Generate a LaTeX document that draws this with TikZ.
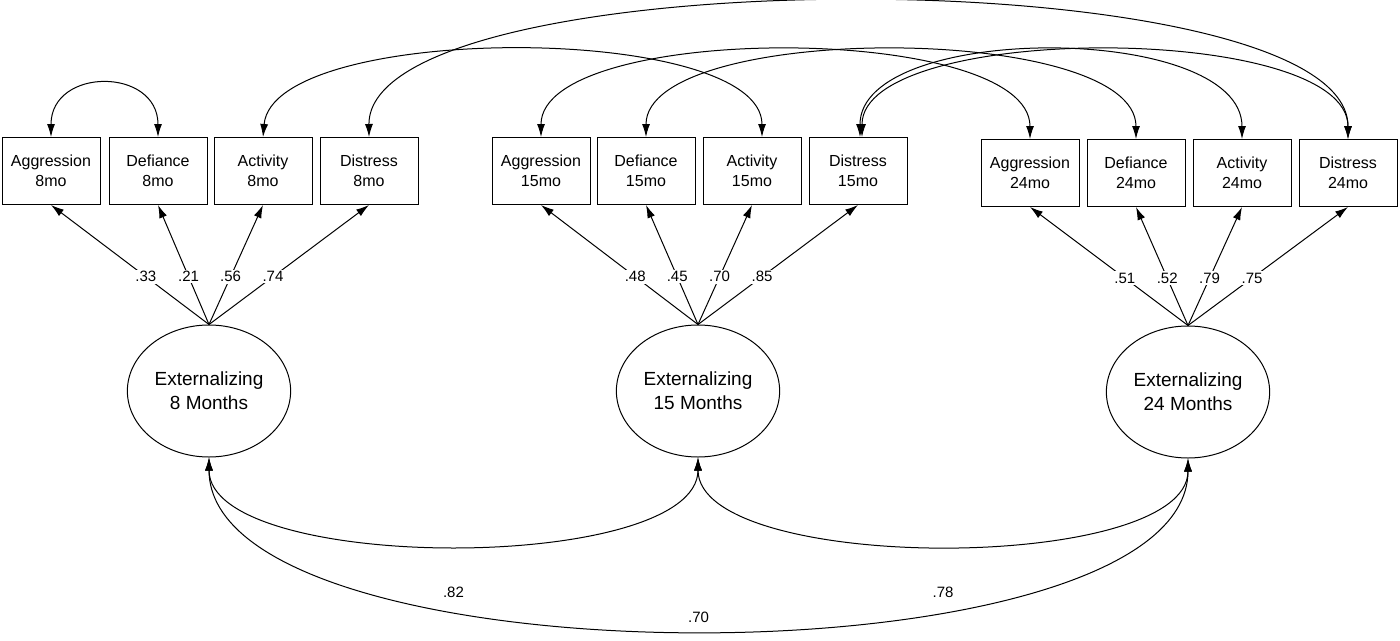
\documentclass[tikz,border=0pt]{standalone}
\usepackage{fontspec}
\setmainfont{Liberation Sans}
\usetikzlibrary{arrows.meta,shapes.geometric}
\begin{document}
\begin{tikzpicture}[x=1pt,y=-1pt,
  box/.style={draw,line width=1pt,minimum width=98pt,minimum height=67pt,align=center,font=\fontsize{16}{20}\selectfont,inner sep=0pt},
  lat/.style={draw,line width=1pt,ellipse,minimum width=146pt,minimum height=132pt,align=center,font=\fontsize{19}{24}\selectfont},
  arr/.style={line width=1pt,-{Latex[length=13pt,width=8pt]}},
  cov/.style={line width=1pt,{Latex[length=13pt,width=8pt]}-{Latex[length=13pt,width=8pt]}},
  lab/.style={fill=white,inner sep=1.5pt,font=\fontsize{15}{18}\selectfont}]
\useasboundingbox (0,0) rectangle (1400,640);
\foreach \n/\x/\y/\t in {a8/51/171/Aggression\\8mo, d8/158/171/Defiance\\8mo, c8/263/171/Activity\\8mo, s8/369/171/Distress\\8mo,
 a15/541/171/Aggression\\15mo, d15/646/171/Defiance\\15mo, c15/752/171/Activity\\15mo, s15/858/171/Distress\\15mo,
 a24/1030/173/Aggression\\24mo, d24/1136/173/Defiance\\24mo, c24/1242/173/Activity\\24mo, s24/1348/173/Distress\\24mo}
  \node[box] (\n) at (\x,\y) {\t};
\node[lat] (e8) at (209,391) {Externalizing\\8 Months};
\node[lat] (e15) at (698,391) {Externalizing\\15 Months};
\node[lat] (e24) at (1188,392) {Externalizing\\24 Months};
% loadings
\foreach \e/\b/\l in {e8/a8/.33, e8/d8/.21, e8/c8/.56, e8/s8/.74,
  e15/a15/.48, e15/d15/.45, e15/c15/.70, e15/s15/.85,
  e24/a24/.51, e24/d24/.52, e24/c24/.79, e24/s24/.75}
  \draw[arr] (\e.north) -- node[lab,pos=0.4] {\l} (\b.south);
% top covariances
\draw[cov] (a8.north) .. controls (51,67) and (158,67) .. (d8.north);
\draw[cov] (c8.north) .. controls (273,22) and (762,22) .. ([xshift=10pt]c15.north);
\draw[cov] (s8.north) .. controls (368,-43) and (1348,-43) .. (s24.north);
\draw[cov] (a15.north) .. controls (541,22) and (1030,22) .. (a24.north);
\draw[cov] (d15.north) .. controls (646,22) and (1136,22) .. (d24.north);
\draw[cov] ([xshift=2pt]s15.north) .. controls (860,22) and (1242,22) .. (c24.north);
\draw[cov] ([xshift=4pt]s15.north) .. controls (862,22) and (1348,22) .. (s24.north);
% bottom covariances
\draw[cov] (e8.south) .. controls (209,574) and (698,574) .. node[lab,pos=0.5,yshift=-47pt,fill=none] {.82} (e15.south);
\draw[cov] (e15.south) .. controls (698,574) and (1188,574) .. node[lab,pos=0.5,yshift=-47pt,fill=none] {.78} (e24.south);
\draw[cov] (e8.south) .. controls (209,687) and (1188,687) .. node[lab,pos=0.5,yshift=12pt,fill=none] {.70} (e24.south);
\end{tikzpicture}
\end{document}
